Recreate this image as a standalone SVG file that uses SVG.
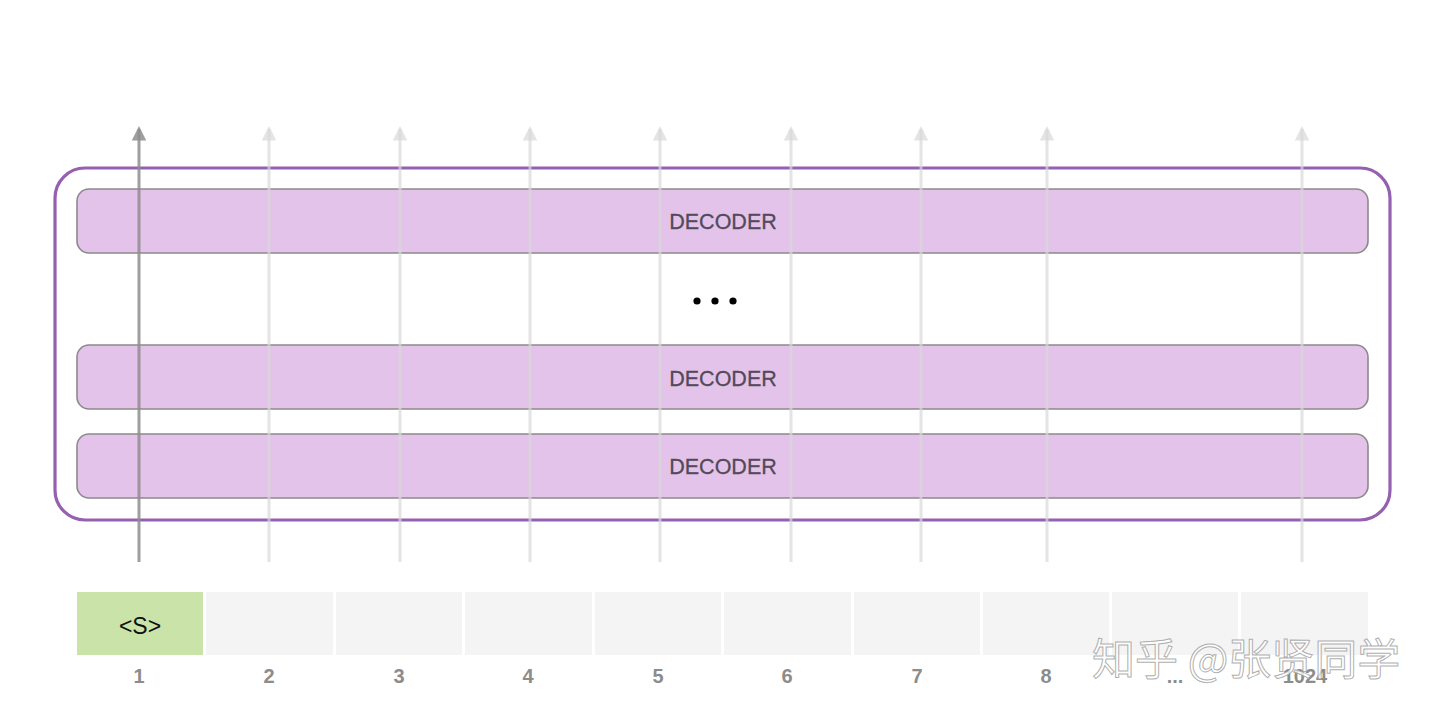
<svg xmlns="http://www.w3.org/2000/svg" width="1435" height="719" viewBox="0 0 1435 719">
<defs>
<style>
.dec{fill:#e4c3ea;stroke:#8a8a8a;stroke-width:1.6}
.dt{font-family:"Liberation Sans",Arial,sans-serif;font-size:21.5px;fill:#534a5a;text-anchor:middle;stroke:#534a5a;stroke-width:0.3}
.cell{fill:#f4f4f4}
.num{font-family:"Liberation Sans",Arial,sans-serif;font-size:20px;font-weight:bold;fill:#8c8c8c;text-anchor:middle}
.lt{stroke:#d8d8d8;stroke-opacity:0.7;stroke-width:3;fill:none}
.dk{stroke:#8e8e8e;stroke-opacity:0.85;stroke-width:3;fill:none}
</style>
<marker id="ahL" viewBox="0 0 10 10" refX="8" refY="5" markerWidth="4.8" markerHeight="4.8" orient="auto" markerUnits="strokeWidth"><path d="M0,0 L10,5 L0,10 Z" fill="#d8d8d8" fill-opacity="0.7"/></marker>
<marker id="ahD" viewBox="0 0 10 10" refX="8" refY="5" markerWidth="4.8" markerHeight="4.8" orient="auto" markerUnits="strokeWidth"><path d="M0,0 L10,5 L0,10 Z" fill="#8e8e8e" fill-opacity="0.85"/></marker>
</defs>
<rect width="1435" height="719" fill="#ffffff"/>
<g id="stack">
<rect x="55" y="168" width="1335" height="352" rx="30" fill="none" stroke="#9560b0" stroke-width="3.2"/>
</g>
<g id="decoder3"><rect class="dec" x="77" y="189" width="1291" height="64" rx="12"/><text class="dt" x="723" y="228.5">DECODER</text></g>
<g id="ellipsis"><circle cx="697" cy="301" r="3.6" fill="#000"/><circle cx="715" cy="301" r="3.6" fill="#000"/><circle cx="733" cy="301" r="3.6" fill="#000"/></g>
<g id="decoder2"><rect class="dec" x="77" y="345" width="1291" height="64" rx="12"/><text class="dt" x="723" y="385.5">DECODER</text></g>
<g id="decoder1"><rect class="dec" x="77" y="434" width="1291" height="64" rx="12"/><text class="dt" x="723" y="473.5">DECODER</text></g>
<g id="connectors">
<line class="dk" x1="139" y1="562" x2="139" y2="129" marker-end="url(#ahD)"/>
<line class="lt" x1="269" y1="562" x2="269" y2="129" marker-end="url(#ahL)"/>
<line class="lt" x1="400" y1="562" x2="400" y2="129" marker-end="url(#ahL)"/>
<line class="lt" x1="530" y1="562" x2="530" y2="129" marker-end="url(#ahL)"/>
<line class="lt" x1="660" y1="562" x2="660" y2="129" marker-end="url(#ahL)"/>
<line class="lt" x1="791" y1="562" x2="791" y2="129" marker-end="url(#ahL)"/>
<line class="lt" x1="921" y1="562" x2="921" y2="129" marker-end="url(#ahL)"/>
<line class="lt" x1="1047" y1="562" x2="1047" y2="129" marker-end="url(#ahL)"/>
<line class="lt" x1="1302" y1="562" x2="1302" y2="129" marker-end="url(#ahL)"/>
</g>
<g id="tokens">
<rect x="77" y="592" width="126" height="63" fill="#c9e3a8"/>
<text x="140" y="634" font-family="'Liberation Sans',Arial,sans-serif" font-size="23" fill="#111" text-anchor="middle">&lt;S&gt;</text>
<rect class="cell" x="206" y="592" width="127" height="63"/>
<rect class="cell" x="336" y="592" width="126" height="63"/>
<rect class="cell" x="465" y="592" width="127" height="63"/>
<rect class="cell" x="595" y="592" width="126" height="63"/>
<rect class="cell" x="724" y="592" width="127" height="63"/>
<rect class="cell" x="854" y="592" width="126" height="63"/>
<rect class="cell" x="983" y="592" width="126" height="63"/>
<rect class="cell" x="1112" y="592" width="126" height="63"/>
<rect class="cell" x="1241" y="592" width="127" height="63"/>
</g>
<g id="positions">
<text class="num" x="139" y="683">1</text>
<text class="num" x="269" y="683">2</text>
<text class="num" x="399" y="683">3</text>
<text class="num" x="528" y="683">4</text>
<text class="num" x="658" y="683">5</text>
<text class="num" x="787" y="683">6</text>
<text class="num" x="917" y="683">7</text>
<text class="num" x="1046" y="683">8</text>
<text class="num" x="1175" y="683">...</text>
<text class="num" x="1305" y="683">1024</text>
</g>
<g id="watermark">
<text x="1092" y="675" font-family="'Noto Sans CJK SC',sans-serif" font-size="43" fill="#ffffff" fill-opacity="0.75" stroke="#9a9a9a" stroke-width="1" stroke-opacity="0.8">知乎 @张贤同学</text>
</g>
</svg>
